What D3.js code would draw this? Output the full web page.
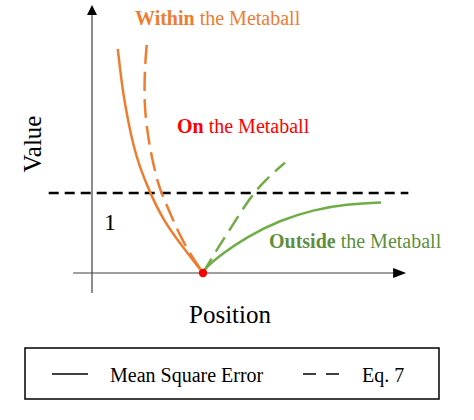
<!DOCTYPE html>
<html>
<head>
<meta charset="utf-8">
<script src="https://cdn.jsdelivr.net/npm/d3@7"></script>
<style>
  html, body { margin: 0; padding: 0; background: #fff; }
  svg { display: block; font-family: "Liberation Serif", "Times New Roman", serif; }
</style>
</head>
<body>
<svg id="chart" width="474" height="420"></svg>
<script>
/* Metaball error sketch: value vs. position, MSE (solid) against Eq. 7 (dashed)
   inside and outside the surface. Units: position 0 = value axis, 1 = surface;
   value 1 = the dashed reference level. */

// axis extents in data units
var positionExtent = [-0.17, 2.83];
var valueExtent = [-0.25, 3.35];
var refLine = { value: 1, from: -0.39, to: 2.85 };
var surface = { position: 1, value: 0 };

// curves, [position, value]
var withinMSE = [[0.232, 2.80], [0.252, 2.56], [0.282, 2.23], [0.327, 1.89], [0.372, 1.60],
  [0.428, 1.33], [0.523, 1.00], [0.643, 0.66], [0.793, 0.37], [1.0, 0]];
var withinEq7 = [[0.493, 2.85], [0.477, 2.60], [0.471, 2.23], [0.480, 1.98], [0.507, 1.69],
  [0.538, 1.45], [0.597, 1.10], [0.642, 0.95], [0.718, 0.70], [0.823, 0.37], [1.0, 0]];
var outsideMSE = [[1.0, 0], [1.018, 0.06], [1.183, 0.25], [1.394, 0.45], [1.694, 0.66],
  [1.994, 0.79], [2.295, 0.86], [2.604, 0.88]];
var outsideEq7 = [[1.0, 0], [1.123, 0.29], [1.259, 0.58], [1.408, 0.91], [1.543, 1.14], [1.739, 1.38]];

var legendItems = [{ label: "Mean Square Error", dash: null }, { label: "Eq. 7", dash: "13 10" }];

(function () {
  "use strict";
  var C = { orange: "#ED7D31", green: "#70AD47", greenText: "#5E8F3E", red: "#FF0000", axis: "#404040", ink: "#000" };
  var svg = d3.select("#chart");

  var x = d3.scaleLinear().domain([0, 1]).range([92, 203]);
  var y = d3.scaleLinear().domain([0, 1]).range([273, 193]);

  // reference level
  svg.append("line").attr("x1", x(refLine.from)).attr("x2", x(refLine.to))
    .attr("y1", y(refLine.value)).attr("y2", y(refLine.value))
    .attr("stroke", C.ink).attr("stroke-width", 2.6).attr("stroke-dasharray", "10 6");

  // axes
  svg.append("line").attr("x1", x(0)).attr("x2", x(0))
    .attr("y1", y(valueExtent[0])).attr("y2", y(valueExtent[1]) + 8)
    .attr("stroke", C.axis).attr("stroke-width", 1.2);
  svg.append("path")
    .attr("d", "M" + x(0) + "," + y(valueExtent[1]) + "l-5,10h10z").attr("fill", C.ink);
  svg.append("line").attr("x1", x(positionExtent[0])).attr("x2", x(positionExtent[1]) - 8)
    .attr("y1", y(0)).attr("y2", y(0))
    .attr("stroke", C.axis).attr("stroke-width", 1.2);
  svg.append("path")
    .attr("d", "M" + x(positionExtent[1]) + "," + y(0) + "l-13,-5v10z").attr("fill", C.ink);

  var line = d3.line().x(function (d) { return x(d[0]); }).y(function (d) { return y(d[1]); })
    .curve(d3.curveBasis);

  [[withinMSE, C.orange, null], [withinEq7, C.orange, "19 8"],
   [outsideMSE, C.green, null], [outsideEq7, C.green, "17 8"]].forEach(function (s) {
    svg.append("path").attr("d", line(s[0])).attr("fill", "none")
      .attr("stroke", s[1]).attr("stroke-width", 2.5)
      .attr("stroke-dasharray", s[2]);
  });

  svg.append("circle").attr("cx", x(surface.position)).attr("cy", y(surface.value))
    .attr("r", 4.2).attr("fill", C.red);

  // region labels
  function label(tx, ty, bold, rest, fill) {
    var t = svg.append("text").attr("x", tx).attr("y", ty)
      .style("font-size", "20px").attr("fill", fill);
    t.append("tspan").style("font-weight", "bold").text(bold);
    t.append("tspan").text(rest);
  }
  label(135, 25, "Within", " the Metaball", C.orange);
  label(177, 133, "On", " the Metaball", C.red);
  label(269, 248, "Outside", " the Metaball", C.greenText);

  svg.append("text").attr("x", 104).attr("y", 230).style("font-size", "24px")
    .attr("fill", C.ink).text("1");

  // axis titles
  svg.append("text").attr("x", 230).attr("y", 323).attr("text-anchor", "middle")
    .style("font-size", "25px").attr("fill", C.ink).text("Position");
  svg.append("text").attr("transform", "translate(41,144) rotate(-90)")
    .attr("text-anchor", "middle").style("font-size", "25px").attr("fill", C.ink).text("Value");

  // legend
  var lg = svg.append("g").attr("transform", "translate(25,348)");
  lg.append("rect").attr("width", 414).attr("height", 51)
    .attr("fill", "none").attr("stroke", C.ink).attr("stroke-width", 1.5);
  var slots = [27, 278];
  legendItems.forEach(function (d, i) {
    lg.append("line").attr("x1", slots[i]).attr("x2", slots[i] + 36).attr("y1", 26).attr("y2", 26)
      .attr("stroke", C.ink).attr("stroke-width", 1.6).attr("stroke-dasharray", d.dash);
    lg.append("text").attr("x", slots[i] + (i ? 59 : 58)).attr("y", 34)
      .style("font-size", "20px").attr("fill", C.ink).text(d.label);
  });
})();
</script>
</body>
</html>
